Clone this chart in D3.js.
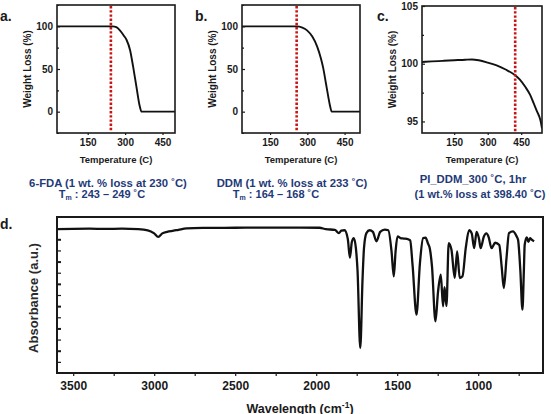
<!DOCTYPE html>
<html>
<head>
<meta charset="utf-8">
<script src="https://cdn.jsdelivr.net/npm/d3@7"></script>
<style>
  body { margin: 0; background: #fff; }
  svg { display: block; font-family: "Liberation Sans", Arial, sans-serif; }
</style>
</head>
<body>
<div id="chart"></div>
<script>
// TGA panel a (6-FDA)
const tgaATemp   = [27, 100, 200, 250, 265, 280, 295, 306, 320, 332, 345, 359, 366, 400, 500];
const tgaAWeight = [100, 100, 100, 100, 99, 95, 89, 84, 72, 53, 30, 6, 0, 0, 0];
// TGA panel b (DDM)
const tgaBTemp   = [37, 100, 200, 257, 280, 300, 320, 340, 355, 364, 375, 384, 392, 398, 450, 512];
const tgaBWeight = [100, 100, 100, 100, 98.5, 95, 88, 76, 62, 51, 33, 18, 6, 0, 0, 0];
// TGA panel c (PI_DDM)
const tgaCTemp   = [6, 50, 100, 150, 200, 230, 260, 300, 340, 380, 423, 445, 468, 490, 505, 520, 536, 543];
const tgaCWeight = [100.15, 100.2, 100.25, 100.3, 100.35, 100.37, 100.3, 100.1, 99.85, 99.5, 99.0, 98.6, 98.0, 97.3, 96.6, 95.9, 95.1, 94.4];

const tgaXTicks  = [150, 300, 450];
const tgaABTicks = [0, 50, 100];
const tgaCTicks  = [95, 100, 105];

// FTIR panel d
const ftirWavenumber = [3600, 3500, 3400, 3300, 3200, 3100, 3040, 3000, 2975, 2950, 2920, 2880, 2850, 2800, 2700, 2500, 2300, 2100, 1980,
  1940, 1885, 1860, 1845, 1825, 1805, 1792, 1780, 1768, 1755, 1745, 1728, 1714, 1705, 1690, 1670, 1650, 1628, 1605, 1577,
  1555, 1535, 1521, 1510, 1498, 1480, 1460, 1440, 1420, 1405, 1381, 1360, 1340, 1325, 1310, 1299, 1285, 1264, 1248, 1231,
  1217, 1208, 1196, 1182, 1165, 1145, 1130, 1114, 1097, 1077, 1056, 1040, 1025, 1010, 995, 985, 965, 950, 935, 918,
  895, 870, 855, 842, 825, 810, 785, 765, 754, 740, 727, 718, 713, 700, 690, 680, 670, 655];
const ftirAbsorbance = [0.922, 0.924, 0.925, 0.924, 0.925, 0.922, 0.915, 0.895, 0.872, 0.895, 0.905, 0.912, 0.918, 0.927, 0.930, 0.931, 0.932, 0.932, 0.931,
  0.922, 0.918, 0.897, 0.912, 0.915, 0.86, 0.74, 0.84, 0.865, 0.80, 0.66, 0.16, 0.60, 0.80, 0.897, 0.915, 0.905, 0.844, 0.905, 0.919,
  0.915, 0.78, 0.619, 0.78, 0.876, 0.865, 0.862, 0.86, 0.85, 0.69, 0.374, 0.70, 0.865, 0.868, 0.83, 0.80, 0.68, 0.331, 0.52, 0.63,
  0.427, 0.55, 0.43, 0.833, 0.79, 0.61, 0.78, 0.609, 0.62, 0.80, 0.915, 0.895, 0.80, 0.905, 0.86, 0.80, 0.875, 0.895, 0.87, 0.80,
  0.835, 0.82, 0.68, 0.545, 0.74, 0.897, 0.908, 0.88, 0.854, 0.66, 0.406, 0.66, 0.822, 0.87, 0.84, 0.865, 0.855, 0.844];
const ftirXTicks = [3500, 3000, 2500, 2000, 1500, 1000];
const ftirXMinor = [3250, 2750, 2250, 1750, 1250, 750];
const ftirYTicks = d3.range(1, 14).map(k => k / 14);

const W = 551, H = 414;
const ink = "#1a1a1a";
const capBlue = "#1f3a78";

const svg = d3.select("#chart").append("svg")
  .attr("width", W)
  .attr("height", H);

function styleAxis(g, size) {
  g.select(".domain").remove();
  g.selectAll("line").attr("stroke", ink).attr("stroke-width", 1.2);
  g.selectAll("text")
    .attr("fill", ink)
    .attr("font-size", size)
    .attr("font-weight", "bold");
}

function drawTga(p) {
  const x = d3.scaleLinear().domain(p.xDomain).range([p.left, p.right]);
  const y = d3.scaleLinear().domain(p.yDomain).range([p.bottom, p.top]);
  const g = svg.append("g");

  const clipId = "clip-" + p.id;
  g.append("clipPath").attr("id", clipId)
    .append("rect")
    .attr("x", p.left).attr("y", p.top)
    .attr("width", p.right - p.left).attr("height", p.bottom - p.top);

  const line = d3.line()
    .x((d, i) => x(p.temp[i]))
    .y(d => y(d))
    .curve(d3.curveMonotoneX);

  g.append("path")
    .datum(p.weight)
    .attr("clip-path", `url(#${clipId})`)
    .attr("d", line)
    .attr("fill", "none")
    .attr("stroke", "#111")
    .attr("stroke-width", 1.9);

  // onset marker
  g.append("line")
    .attr("x1", x(p.onset)).attr("x2", x(p.onset))
    .attr("y1", p.top + 1).attr("y2", p.bottom - 1)
    .attr("stroke", "#c81414")
    .attr("stroke-width", 2.6)
    .attr("stroke-dasharray", "2.4,1.8");

  g.append("rect")
    .attr("x", p.left).attr("y", p.top)
    .attr("width", p.right - p.left).attr("height", p.bottom - p.top)
    .attr("fill", "none")
    .attr("stroke", ink)
    .attr("stroke-width", 1.6);

  g.append("g")
    .attr("transform", `translate(0,${p.bottom})`)
    .call(d3.axisBottom(x).tickValues(tgaXTicks).tickSize(2).tickPadding(4))
    .call(a => styleAxis(a, "10px"));

  g.append("g")
    .attr("transform", `translate(${p.left},0)`)
    .call(d3.axisLeft(y).tickValues(p.yTicks).tickSize(-3).tickPadding(4))
    .call(a => styleAxis(a, "10px"));

  g.append("g")
    .attr("transform", `translate(${p.left},0)`)
    .call(d3.axisLeft(y).tickValues(p.yMinor).tickSize(-2).tickFormat(""))
    .call(a => styleAxis(a, "10px"));

  g.append("text")
    .attr("x", (p.left + p.right) / 2)
    .attr("y", p.bottom + 30)
    .attr("text-anchor", "middle")
    .attr("font-size", "9.5px")
    .attr("font-weight", "bold")
    .attr("fill", ink)
    .text("Temperature (C)");

  g.append("text")
    .attr("transform", `translate(${p.left - 26},${(p.top + p.bottom) / 2}) rotate(-90)`)
    .attr("text-anchor", "middle")
    .attr("font-size", "10px")
    .attr("font-weight", "bold")
    .attr("fill", ink)
    .text("Weight Loss (%)");

  svg.append("text")
    .attr("x", p.letterX).attr("y", 21)
    .attr("font-size", "14px")
    .attr("font-weight", "bold")
    .attr("fill", ink)
    .text(p.letter);

  // blue captions
  svg.append("text")
    .attr("x", p.cap1X).attr("y", p.cap1Y)
    .attr("text-anchor", "middle")
    .attr("font-size", "11.3px")
    .attr("font-weight", "bold")
    .attr("fill", capBlue)
    .text(p.cap1);

  const c2 = svg.append("text")
    .attr("x", p.cap2X).attr("y", 197.5)
    .attr("text-anchor", "middle")
    .attr("font-size", "11px")
    .attr("font-weight", "bold")
    .attr("fill", capBlue);
  if (p.tm) {
    c2.append("tspan").text("T");
    c2.append("tspan").attr("font-size", "7px").attr("dy", 2).text("m");
    c2.append("tspan").attr("dy", -2).text(p.cap2);
  } else {
    c2.text(p.cap2);
  }
}

drawTga({
  id: "a", letter: "a.", letterX: 0,
  left: 57, right: 175, top: 5, bottom: 133,
  xDomain: [27, 500], yDomain: [-25, 125],
  yTicks: tgaABTicks, yMinor: [-25, 25, 75, 125],
  temp: tgaATemp, weight: tgaAWeight, onset: 243,
  cap1: "6-FDA (1 wt. % loss at 230 ˚C)", cap1X: 108, cap1Y: 186.5,
  cap2: " : 243 – 249 ˚C", cap2X: 102, tm: true
});

drawTga({
  id: "b", letter: "b.", letterX: 195,
  left: 242, right: 360, top: 5, bottom: 133,
  xDomain: [37, 512], yDomain: [-25, 125],
  yTicks: tgaABTicks, yMinor: [-25, 25, 75, 125],
  temp: tgaBTemp, weight: tgaBWeight, onset: 257,
  cap1: "DDM (1 wt. % loss at 233 ˚C)", cap1X: 292, cap1Y: 186.5,
  cap2: " : 164 – 168 ˚C", cap2X: 276, tm: true
});

drawTga({
  id: "c", letter: "c.", letterX: 377,
  left: 422, right: 542, top: 6, bottom: 133,
  xDomain: [6, 543], yDomain: [94, 105],
  yTicks: tgaCTicks, yMinor: [97.5, 102.5],
  temp: tgaCTemp, weight: tgaCWeight, onset: 423,
  cap1: "PI_DDM_300 ˚C, 1hr", cap1X: 473, cap1Y: 183,
  cap2: "(1 wt.% loss at 398.40 ˚C)", cap2X: 480, tm: false
});

// ---- FTIR panel d ----
const dBox = { left: 57, right: 543, top: 217, bottom: 373 };
const xD = d3.scaleLinear().domain([3600, 600]).range([dBox.left, dBox.right]);
const yD = d3.scaleLinear().domain([0, 1]).range([dBox.bottom, dBox.top]);
const gd = svg.append("g");

const ftirLine = d3.line()
  .x((d, i) => xD(ftirWavenumber[i]))
  .y(d => yD(d))
  .curve(d3.curveMonotoneX);

gd.append("path")
  .datum(ftirAbsorbance)
  .attr("d", ftirLine)
  .attr("fill", "none")
  .attr("stroke", "#111")
  .attr("stroke-width", 2.3)
  .attr("stroke-linejoin", "round");

gd.append("rect")
  .attr("x", dBox.left).attr("y", dBox.top)
  .attr("width", dBox.right - dBox.left).attr("height", dBox.bottom - dBox.top)
  .attr("fill", "none")
  .attr("stroke", ink)
  .attr("stroke-width", 2);

gd.append("g")
  .attr("transform", `translate(0,${dBox.bottom})`)
  .call(d3.axisBottom(xD).tickValues(ftirXTicks).tickSize(3).tickPadding(5).tickFormat(d3.format("d")))
  .call(a => styleAxis(a, "12px"));

gd.append("g")
  .attr("transform", `translate(0,${dBox.bottom})`)
  .call(d3.axisBottom(xD).tickValues(ftirXMinor).tickSize(3).tickFormat(""))
  .call(a => styleAxis(a, "12px"));

gd.append("g")
  .attr("transform", `translate(${dBox.left},0)`)
  .call(d3.axisLeft(yD).tickValues(ftirYTicks).tickSize(-4).tickFormat(""))
  .call(a => styleAxis(a, "12px"))
  .selectAll("line")
  .attr("stroke-width", (d, i) => i % 2 === 1 ? 2 : 1.2);

svg.append("text")
  .attr("x", 0).attr("y", 229)
  .attr("font-size", "14px")
  .attr("font-weight", "bold")
  .attr("fill", ink)
  .text("d.");

const xl = svg.append("text")
  .attr("x", (dBox.left + dBox.right) / 2).attr("y", 412.5)
  .attr("text-anchor", "middle")
  .attr("font-size", "12.5px")
  .attr("font-weight", "bold")
  .attr("fill", ink);
xl.append("tspan").text("Wavelength (cm");
xl.append("tspan").attr("font-size", "8.5px").attr("dy", -5).text("-1");
xl.append("tspan").attr("dy", 5).text(")");

svg.append("text")
  .attr("transform", `translate(38,${(dBox.top + dBox.bottom) / 2 + 3}) rotate(-90)`)
  .attr("text-anchor", "middle")
  .attr("font-size", "13px")
  .attr("font-weight", "bold")
  .attr("fill", "#2a2a2a")
  .text("Absorbance (a.u.)");
</script>
</body>
</html>
